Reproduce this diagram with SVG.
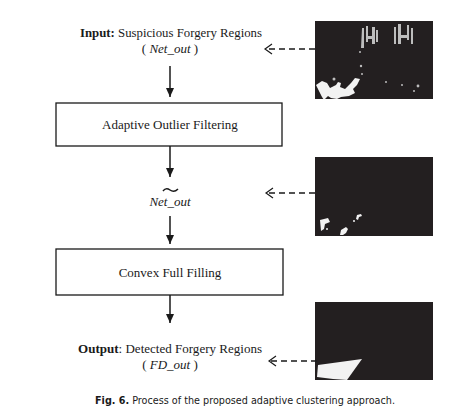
<svg xmlns="http://www.w3.org/2000/svg" width="474" height="415" viewBox="0 0 474 415">
<style>
.t{font-family:"Liberation Serif","Times New Roman",serif;font-size:13px;fill:#1a1a1a}
.i{font-style:italic}
.b{font-weight:bold}
.box{fill:#fff;stroke:#1a1a1a;stroke-width:1.3}
.ln{stroke:#1a1a1a;stroke-width:1.5;fill:none}
.dash{stroke:#1a1a1a;stroke-width:1.4;stroke-dasharray:6,4;fill:none}
.img{fill:#231f20}
.w{fill:#f2f2f2}
.g{fill:#bdbdbd}
.cap{font-family:"DejaVu Sans","Liberation Sans",sans-serif;font-size:10.5px;fill:#1a1a1a}
</style>
<defs>
<marker id="ah" markerWidth="10" markerHeight="10" refX="9" refY="5" orient="auto" markerUnits="userSpaceOnUse">
<path d="M0,1 L9,5 L0,9 Z" fill="#1a1a1a"/>
</marker>
<marker id="oh" markerWidth="10" markerHeight="12" refX="8" refY="6" orient="auto" markerUnits="userSpaceOnUse">
<path d="M1,1 L8,6 L1,11" fill="none" stroke="#1a1a1a" stroke-width="1.2"/>
</marker>
</defs>
<rect width="474" height="415" fill="#fff"/>

<g id="input">
<text class="t" x="171" y="37" text-anchor="middle" textLength="182" lengthAdjust="spacingAndGlyphs"><tspan class="b">Input:</tspan> Suspicious Forgery Regions</text>
<text class="t" x="170" y="53" text-anchor="middle">( <tspan class="i">Net_out</tspan> )</text>
</g>

<g id="filter">
<rect class="box" x="56" y="103" width="226" height="43"/>
<text class="t" x="170" y="129" text-anchor="middle">Adaptive Outlier Filtering</text>
</g>

<g id="netout">
<path class="ln" d="M163,191 q3,-4 7,-1 q4,3 8,-1" stroke-width="1.1"/>
<text class="t i" x="170" y="206" text-anchor="middle">Net_out</text>
</g>

<g id="convex">
<rect class="box" x="56" y="249" width="227" height="46"/>
<text class="t" x="170" y="277" text-anchor="middle">Convex Full Filling</text>
</g>

<g id="output">
<text class="t" x="170" y="353" text-anchor="middle" textLength="184" lengthAdjust="spacingAndGlyphs"><tspan class="b">Output</tspan>:  Detected Forgery Regions</text>
<text class="t" x="170" y="369" text-anchor="middle">( <tspan class="i">FD_out</tspan> )</text>
</g>

<g id="img1">
<rect class="img" x="315" y="21" width="118" height="78"/>
<path class="g" d="M362,28 l2,0 l0,20 l-3,0 z M366,26 l2,0 l0,16 l-2,0 z M372,27 l3,0 l0,17 l-3,0 z M368,36 l4,0 l0,3 l-4,0 z M376,30 l2,0 l0,12 l-2,0 z M394,27 l2,0 l0,17 l-2,0 z M398,24 l3,0 l0,20 l-3,0 z M407,25 l2,0 l0,15 l-2,0 z M411,28 l2,0 l0,16 l-2,0 z M401,35 l6,0 l0,3 l-6,0 z"/>
<path class="w" d="M316,85 l6,-4 l5,2 l3,5 l6,-3 l2,-3 l3,1 l-1,4 l5,2 l6,-6 l4,-5 l5,1 l-3,6 l-4,4 l2,4 l-6,3 l-8,1 l-4,2 l-6,-1 l-3,-2 l-4,4 l-2,-3 z"/>
<circle class="g" cx="334" cy="79" r="1.5"/><circle class="g" cx="361" cy="66" r="1.2"/><circle class="g" cx="362" cy="74" r="1"/>
<circle class="g" cx="402" cy="85" r="1"/><circle class="g" cx="418" cy="86" r="1.4"/><circle class="g" cx="414" cy="91" r="1"/><circle class="g" cx="386" cy="82" r="1"/><circle class="g" cx="360" cy="52" r="1"/>
</g>

<g id="img2">
<rect class="img" x="315" y="157" width="118" height="79"/>
<path class="w" d="M320,220 l8,-2 l2,4 l-5,2 l-1,5 l-3,2 z M341,230 l5,-3 l2,2 l-2,4 l-3,2 l-3,0 z M357,215 l4,-1 l1,2 l-3,1 l-1,3 l-2,-1 z"/>
<circle class="w" cx="327" cy="229" r="1"/><circle class="w" cx="354" cy="221" r="1"/>
</g>

<g id="img3">
<rect class="img" x="315" y="302" width="118" height="78"/>
<path class="w" d="M318,365 L362,359 L347,380 L333,379 L317,377 Z"/>
</g>

<g id="connectors">
<line class="ln" x1="170" y1="66" x2="170" y2="97" marker-end="url(#ah)"/>
<line class="ln" x1="170" y1="146" x2="170" y2="177" marker-end="url(#ah)"/>
<line class="ln" x1="170" y1="216" x2="170" y2="244" marker-end="url(#ah)"/>
<line class="ln" x1="170" y1="295" x2="170" y2="323" marker-end="url(#ah)"/>
<line class="dash" x1="315" y1="49" x2="265" y2="49" marker-end="url(#oh)"/>
<line class="dash" x1="315" y1="193" x2="266" y2="193" marker-end="url(#oh)"/>
<line class="dash" x1="317" y1="361" x2="269" y2="361" marker-end="url(#oh)"/>
</g>

<text class="cap" x="95" y="404" textLength="300" lengthAdjust="spacingAndGlyphs"><tspan font-weight="bold">Fig. 6.</tspan>  Process of the proposed adaptive clustering approach.</text>
</svg>
